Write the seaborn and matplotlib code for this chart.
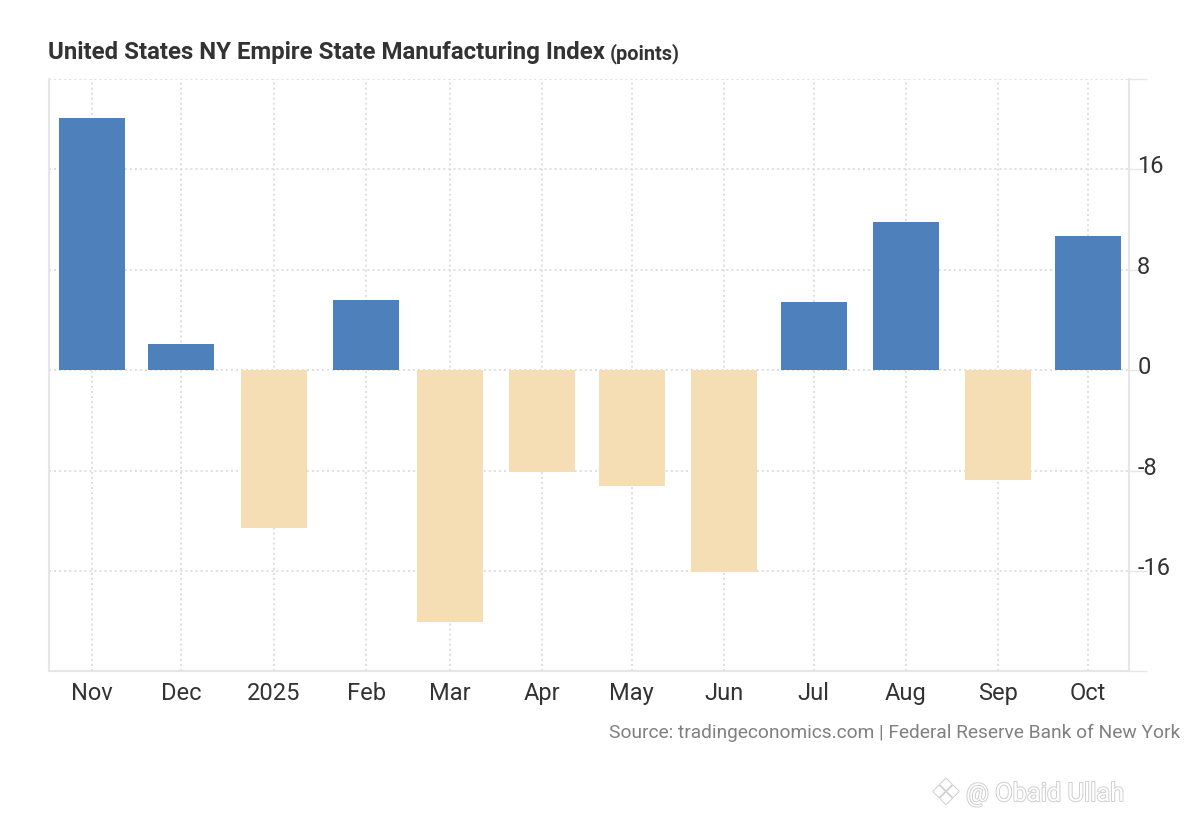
import matplotlib
matplotlib.use("Agg")
import matplotlib.pyplot as plt
import matplotlib.patheffects as pe
from matplotlib.transforms import ScaledTranslation
import pandas as pd
import seaborn as sns

months = ["2024-11-01", "2024-12-01", "2025-01-01", "2025-02-01", "2025-03-01", "2025-04-01",
          "2025-05-01", "2025-06-01", "2025-07-01", "2025-08-01", "2025-09-01", "2025-10-01"]
tick_labels = ["Nov", "Dec", "2025", "Feb", "Mar", "Apr", "May", "Jun", "Jul", "Aug", "Sep", "Oct"]
values = [20.1, 2.1, -12.6, 5.6, -20.05, -8.1, -9.2, -16.05, 5.4, 11.8, -8.75, 10.7]
y_ticks = [-16, -8, 0, 8, 16]

BLUE = "#4e80bc"
TAN = "#f5deb3"
TEXT = "#333333"
LINE = "#e6e6e6"
GRID = "#dedede"
W, H = 1200, 820

sns.set_theme(style="white")
plt.rcParams["font.family"] = ["Roboto", "DejaVu Sans"]

dates = pd.to_datetime(months)
days = (dates - dates[0]).days.to_numpy()
df = pd.DataFrame({"day": days, "value": values,
                   "sign": ["up" if v >= 0 else "down" for v in values]})

fig = plt.figure(figsize=(12, 8.2), dpi=100, facecolor="white")
ax = fig.add_axes([49 / W, 1 - 672 / H, (1129 - 49) / W, (672 - 80) / H])

sns.barplot(data=df, x="day", y="value", hue="sign", palette={"up": BLUE, "down": TAN},
            native_scale=True, dodge=False, width=0.79, saturation=1, legend=False,
            linewidth=0, ax=ax)

y_low, y_high = -23.96, 23.17
ax.set_xlim(-14.4, 347.8)
ax.set_ylim(y_low, y_high)
ax.set_xlabel("")
ax.set_ylabel("")
ax.set_axisbelow(True)

ax.set_xticks(days)
ax.set_xticklabels(tick_labels)
ax.yaxis.tick_right()
ax.set_yticks([y_low] + y_ticks + [y_high])
ax.set_yticklabels([""] + [str(t) for t in y_ticks] + [""])

ax.grid(True, color=GRID, linewidth=1.4, linestyle=(0, (1, 1.6)))
ax.tick_params(axis="x", length=0, pad=7.0, labelsize=17, labelcolor=TEXT)
ax.tick_params(axis="y", which="major", length=13.2, width=1.0, color=LINE,
               pad=-7.3, labelsize=17, labelcolor=TEXT, right=True, left=False)

shift = ScaledTranslation(0, 6.0 / 100, fig.dpi_scale_trans)
for lab in ax.get_yticklabels():
    lab.set_transform(lab.get_transform() + shift)

for side in ("left", "right", "bottom"):
    ax.spines[side].set_color(LINE)
    ax.spines[side].set_linewidth(1.5)
ax.spines["top"].set_visible(False)

fig.text(48 / W, 1 - 52.5 / H, "United States NY Empire State Manufacturing Index",
         fontsize=17.25, fontweight="bold", color=TEXT, va="center", ha="left")
fig.text(610 / W, 1 - 54 / H, "(points)", fontsize=14.4, fontweight="bold",
         color=TEXT, va="center", ha="left")
fig.text(1180 / W, 1 - 733 / H, "Source: tradingeconomics.com | Federal Reserve Bank of New York",
         fontsize=13.74, color="#808080", va="center", ha="right")

halo = [pe.withStroke(linewidth=1.4, foreground="#cfcfcf")]
fig.text(946 / W, 1 - 795 / H, "❖", fontsize=25, color="white", va="center", ha="center",
         family=["DejaVu Sans"], path_effects=halo)
fig.text(966 / W, 1 - 795 / H, "@ Obaid Ullah", fontsize=18.3, color="white", va="center", ha="left",
         path_effects=halo)

fig.savefig("out.png", dpi=100, facecolor="white")
